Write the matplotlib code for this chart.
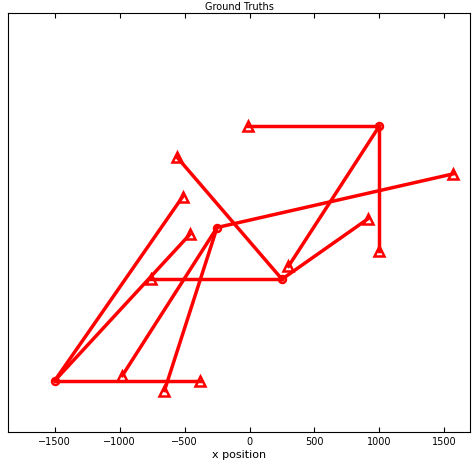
import matplotlib.pyplot as plt
import numpy as np

# sources (circles) and their targets (triangles), x in position units, y arbitrary
src_x = [-1500, -250, 250, 1000]
src_y = [52, 206, 154, 308]
tgt_x = [[-515, -460, -385],
         [1570, -980, -655],
         [-760, -560, 915],
         [-10, 1000, 300]]
tgt_y = [[237, 199, 52],
         [260, 57, 42],
         [154, 277, 215],
         [308, 182, 167]]

fig = plt.figure(figsize=(4.74, 4.74), dpi=100)
ax = fig.add_axes([0.017, 0.088, 0.975, 0.885])
for sx, sy, txs, tys in zip(src_x, src_y, tgt_x, tgt_y):
    for tx, ty in zip(txs, tys):
        ax.plot([sx, tx], [sy, ty], color="red", lw=2.5)
        ax.plot(tx, ty, marker="^", color="red", ms=7, mfc="none", mew=1.8)
    ax.plot(sx, sy, marker="o", color="red", ms=5, mfc="none", mew=1.8)

ax.set_xlim(-1860, 1700)
ax.set_ylim(0, 422)
ax.set_xticks([-1500, -1000, -500, 0, 500, 1000, 1500])
ax.set_yticks([])
ax.tick_params(axis="x", labelsize=7, direction="in", top=True)
ax.set_xlabel("x position", fontsize=8, labelpad=2)
ax.set_title("Ground Truths", fontsize=7, pad=2)
fig.savefig("out.png", dpi=100)
